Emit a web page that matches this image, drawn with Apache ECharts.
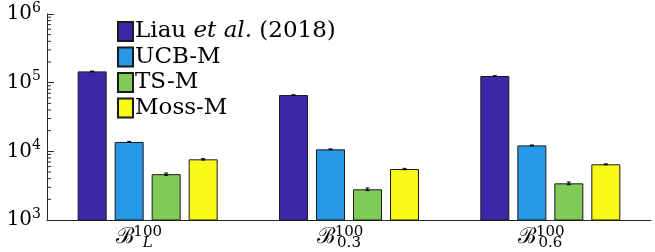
<!DOCTYPE html>
<html><head><meta charset="utf-8">
<script src="https://cdn.jsdelivr.net/npm/echarts@6/dist/echarts.min.js"></script>
<style>html,body{margin:0;padding:0;background:#fff}#c{width:655px;height:252px}</style>
</head><body><div id="c"></div>
<script>
const categories = ['L', '0.3', '0.6'];
const seriesNames = ['Liau et al. (2018)', 'UCB-M', 'TS-M', 'Moss-M'];
const liau = [146000, 66000, 125000];
const ucb = [13700, 10700, 12200];
const ts = [4650, 2800, 3420];
const moss = [7650, 5530, 6470];
const liauErr = [1500, 700, 1200];
const ucbErr = [250, 150, 150];
const tsErr = [180, 120, 150];
const mossErr = [180, 120, 100];
const yTicks = [1000, 10000, 100000, 1000000];
const colors = ['#3E26A8', '#2797E8', '#80CB58', '#F8F819'];

const values = [liau, ucb, ts, moss];
const errs = [liauErr, ucbErr, tsErr, mossErr];
const BAR_W = 29, PITCH = 37;
const serif = 'DejaVu Serif';

const minorVals = [];
for (let k = 3; k < 6; k++) for (let m = 2; m <= 9; m++) minorVals.push(m * Math.pow(10, k));

const chart = echarts.init(document.getElementById('c'), null, { renderer: 'canvas' });
const series = [];
values.forEach((arr, i) => {
  series.push({
    name: seriesNames[i], type: 'bar', data: arr, barWidth: BAR_W, barGap: ((PITCH - BAR_W) / BAR_W * 100) + '%',
    itemStyle: { color: colors[i], borderColor: '#1a1a1a', borderWidth: 1 },
    emphasis: { disabled: true }, animation: false
  });
});
values.forEach((arr, i) => {
  series.push({
    type: 'custom', xAxisIndex: 0, yAxisIndex: 0, silent: true, animation: false, z: 5,
    data: arr.map((v, j) => [j, v, errs[i][j]]),
    renderItem: function (params, api) {
      const j = api.value(0), v = api.value(1), e = api.value(2);
      const c = api.coord([j, v]);
      const x = c[0] + (i - 1.5) * PITCH;
      const yHi = api.coord([j, v + e])[1], yLo = api.coord([j, v - e])[1];
      const st = { stroke: '#000', lineWidth: 1 };
      return { type: 'group', children: [
        { type: 'line', shape: { x1: x, y1: yHi, x2: x, y2: yLo }, style: st },
        { type: 'line', shape: { x1: x - 2, y1: yHi, x2: x + 2, y2: yHi }, style: st },
        { type: 'line', shape: { x1: x - 2, y1: yLo, x2: x + 2, y2: yLo }, style: st }
      ]};
    }
  });
});
series.push({
  type: 'custom', silent: true, animation: false, z: 6,
  data: minorVals.map(v => [0, v]),
  renderItem: function (params, api) {
    const y = api.coord([0, api.value(1)])[1];
    const x = params.coordSys.x;
    return { type: 'line', shape: { x1: x, y1: y, x2: x + 4, y2: y }, style: { stroke: '#262626', lineWidth: 1 } };
  }
});

chart.setOption({
  animation: false,
  textStyle: { fontFamily: serif },
  grid: { left: 47, right: 4, top: 14, bottom: 32, containLabel: false, outerBoundsMode: 'none' },
  legend: {
    data: seriesNames, orient: 'vertical', left: 112, top: 15,
    itemWidth: 15, itemHeight: 19, itemGap: 2.5, icon: 'rect',
    textStyle: { fontFamily: serif, fontSize: 23, color: '#000', padding: [0, 0, 0, -3],
      rich: {
        n: { fontFamily: serif, fontSize: 23, color: '#000' },
        i: { fontFamily: serif, fontSize: 23, fontStyle: 'italic', color: '#000' }
      } },
    formatter: function (name) {
      if (name.indexOf('et al.') >= 0) return '{n|Liau }{i|et al.}{n| (2018)}';
      return '{n|' + name + '}';
    },
    selectedMode: false
  },
  xAxis: [{
    type: 'category', data: categories, position: 'bottom',
    axisLine: { lineStyle: { color: '#262626', width: 1 } },
    axisTick: { inside: true, length: 4, alignWithLabel: true, lineStyle: { color: '#262626' } },
    axisLabel: {
      margin: 6, padding: [0, 18, 0, 0],
      formatter: v => '{b|ℬ}' + (v === 'L' ? '{si|L}' : '{s|' + v + '}'),
      rich: {
        b: { fontFamily: serif, fontSize: 22, color: '#000', verticalAlign: 'bottom', width: 18 },
        s: { fontFamily: serif, fontSize: 15, color: '#000', verticalAlign: 'bottom', padding: [0, 0, -3, 0], width: 28, align: 'left' },
        si: { fontFamily: serif, fontSize: 15, fontStyle: 'italic', color: '#000', verticalAlign: 'bottom', padding: [0, 0, -3, 0], width: 28, align: 'left' }
      }
    }
  }, {
    type: 'category', data: categories, position: 'bottom', gridIndex: 0,
    axisLine: { show: false }, axisTick: { show: false },
    axisLabel: {
      margin: 5, padding: [0, 18, 0, 0],
      formatter: v => '{h|}{s|100}',
      rich: {
        h: { fontFamily: serif, fontSize: 15, width: 18 },
        s: { fontFamily: serif, fontSize: 15, color: '#000', width: 28, align: 'left' }
      }
    }
  }],
  yAxis: {
    type: 'log', logBase: 10, min: 1000, max: 1000000,
    axisLine: { show: true, lineStyle: { color: '#262626', width: 1 } },
    axisTick: { show: true, inside: true, length: 7, lineStyle: { color: '#262626' } },
    splitLine: { show: false },
    axisLabel: {
      margin: 6,
      formatter: v => {
        const e = Math.round(Math.log10(v));
        return '{b|10}{s|' + e + '}';
      },
      rich: {
        b: { fontFamily: serif, fontSize: 20, color: '#000' },
        s: { fontFamily: serif, fontSize: 14, color: '#000', padding: [0, 0, 12, 0] }
      }
    }
  },
  series: series
});
</script></body></html>
